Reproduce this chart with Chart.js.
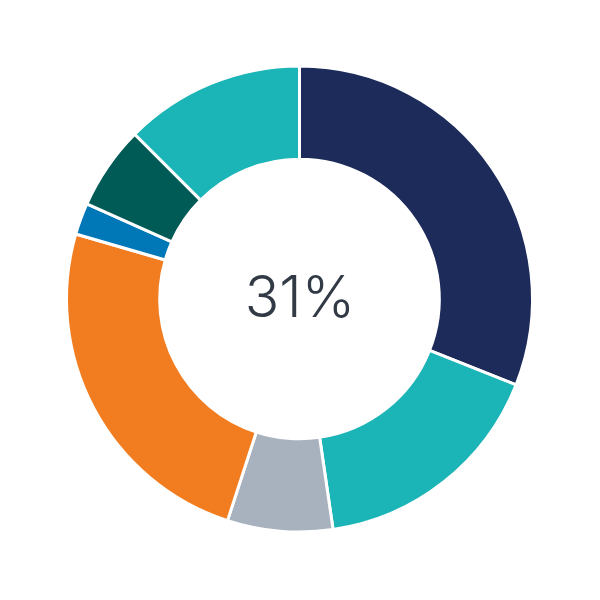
<!DOCTYPE html>
<html>
<head>
<meta charset="utf-8">
<script src="https://cdn.jsdelivr.net/npm/chart.js@4"></script>
<style>
  html, body { margin: 0; padding: 0; background: #ffffff; }
  #wrap { position: relative; width: 600px; height: 600px; }
  #center_label {
    position: absolute; left: 0; top: 0; width: 600px; height: 600px;
    display: flex; align-items: center; justify-content: center;
    font-family: 'Inter', 'Noto Sans', sans-serif; font-weight: 300;
    font-size: 57px; color: #323a46; pointer-events: none;
  }
</style>
</head>
<body>
<div id="wrap">
  <canvas id="share_chart" width="600" height="600"></canvas>
  <div id="center_label"><span id="center_text" style="position:relative; top:-4px;">31%</span></div>
</div>
<script>
const segment_labels = ['A', 'B', 'C', 'D', 'E', 'F', 'G'];
const segment_values = [31, 16.7, 7.3, 24.5, 2.2, 5.8, 12.5];
const segment_colors = ['#1c2b5a', '#1bb4b7', '#a8b2bf', '#f27d21', '#0077b6', '#005a55', '#1bb4b7'];
const center_text = '31%';

document.addEventListener('DOMContentLoaded', function() {
    document.getElementById('center_text').textContent = center_text;
    new Chart(document.getElementById('share_chart'), {
        type: 'doughnut',
        data: {
            labels: segment_labels,
            datasets: [{
                data: segment_values,
                backgroundColor: segment_colors,
                borderColor: '#ffffff',
                borderWidth: 3,
                hoverOffset: 0
            }]
        },
        options: {
            responsive: false,
            animation: false,
            cutout: '60%',
            layout: {
                padding: { top: 64, bottom: 66, left: 65, right: 66 }
            },
            plugins: {
                legend: { display: false },
                tooltip: { enabled: false }
            }
        }
    });
});
</script>
</body>
</html>
